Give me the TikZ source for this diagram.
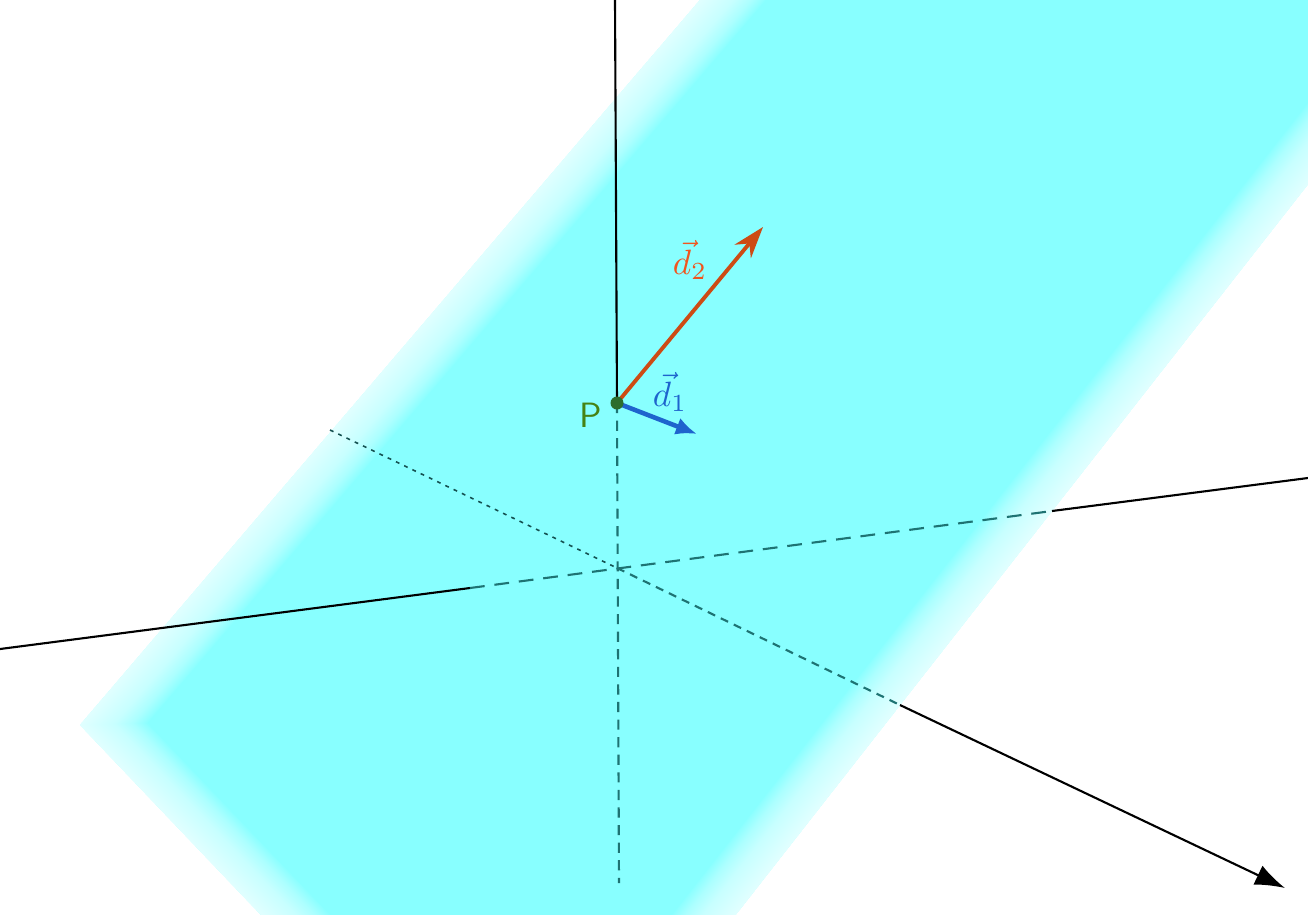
\documentclass[tikz,border=0pt]{standalone}
\usepackage{tikz}
\usetikzlibrary{arrows.meta}
\definecolor{planecyan}{RGB}{136,255,255}
\definecolor{hidden}{RGB}{30,115,115}
\definecolor{dtwo}{RGB}{205,75,20}
\definecolor{dtwolabel}{RGB}{240,85,30}
\definecolor{done}{RGB}{30,100,205}
\definecolor{dpoint}{RGB}{45,110,45}
\definecolor{plabel}{RGB}{70,130,20}

\begin{document}
\begin{tikzpicture}[x=0.01cm,y=-0.01cm]
			%%%%% START %%%%%
			\def\px{0.2845pt}
			\def\axis{0.6pt}
			\def\plane{(80,725) -- (871,-200) -- (1609,-200) -- (669,1000) -- (342,1000) -- cycle}
			\useasboundingbox (0,0) rectangle (1308,914);
			
			\fill[planecyan] \plane;
			\begin{scope}
				\clip \plane;
				\foreach \w in {2,4,...,100}
					\draw[white,opacity=0.034,line width=\w*\px] \plane;
			\end{scope}
			
			\coordinate (O) at (617,568);
			\coordinate (P) at (617,403);
			\coordinate (Zt) at (615,0);
			\coordinate (Zb) at (619,883);
			\coordinate (Xs) at (330,430);
			\coordinate (Xm) at (900,705);
			\coordinate (Xe) at (1285,888);
			\coordinate (Ya) at (0,649);
			\coordinate (Yb) at (470,588);
			\coordinate (Yc) at (1052,511);
			\coordinate (Yd) at (1308,478);
			\coordinate (D1) at (697,434);
			\coordinate (D2) at (763,227);
			
			\draw[line width=\axis] (Zt) -- (P);
			\draw[hidden,line width=\axis,dash pattern=on 2.9pt off 2.1pt] (P) -- (Zb);
			
			\draw[hidden!70!black,line width=0.45pt,dash pattern=on 1.1pt off 1.5pt] (Xs) -- (O);
			\draw[hidden,line width=\axis,dash pattern=on 2.3pt off 1.8pt] (O) -- (Xm);
			\draw[line width=\axis,-{Latex[length=8.5pt,width=6pt]}] (Xm) -- (Xe);
			
			\draw[line width=\axis] (Ya) -- (Yb);
			\draw[hidden,line width=\axis,dash pattern=on 4.2pt off 2.8pt] (Yb) -- (Yc);
			\draw[line width=\axis] (Yc) -- (Yd);
			
			\draw[dtwo,line width=1.1pt,-{Stealth[length=9pt,width=6pt]}] (P) -- (D2);
			\draw[done,line width=1.3pt,-{Latex[length=6pt,width=5pt]}] (P) -- (D1);
			\fill[dpoint] (P) circle (6.5);
			
			\node[text=plabel,font=\sffamily] (Plab) at (591,415) {P};
			\node[text=dtwolabel] (D2lab) at (690,260) {$\vec{d}_2$};
			\node[text=done] (D1lab) at (670,392) {$\vec{d}_1$};
			%%%%% END %%%%%
\end{tikzpicture}
\end{document}
